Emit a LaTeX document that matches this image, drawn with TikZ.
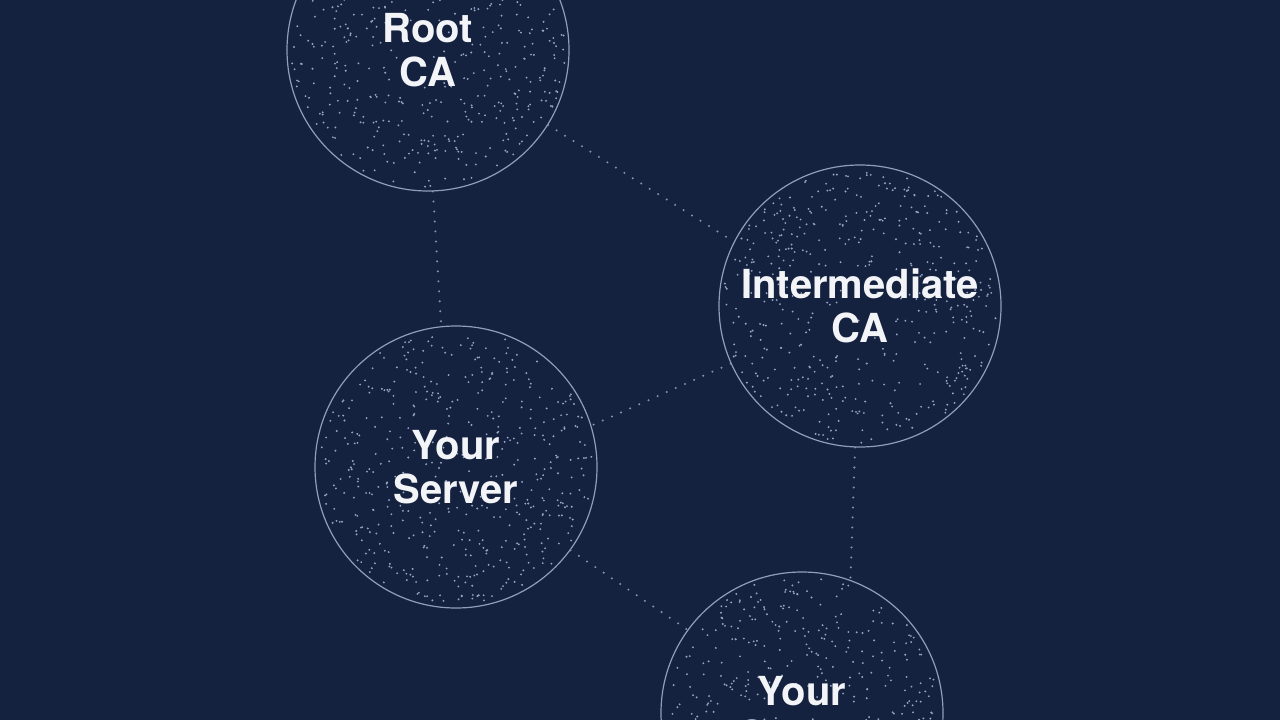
\documentclass[tikz,border=0pt]{standalone}
\usepackage{fontspec}
\setmainfont{TeX Gyre Heros}
\usetikzlibrary{positioning}
\definecolor{navy}{HTML}{15223F}
\definecolor{rim}{HTML}{8E9EBE}
\definecolor{speck}{HTML}{8192B4}
\definecolor{grain}{HTML}{93A4C4}
\definecolor{label}{HTML}{F2F4F8}

\begin{document}
\begin{tikzpicture}[x=0.75pt,y=0.75pt,yscale=-1,xscale=1,
  ca/.style={circle,draw=rim,line width=0.9pt,minimum size=211.5pt,inner sep=0pt,
    align=center,text=label,font=\fontsize{30}{33.5}\selectfont\bfseries},
  link/.style={draw=speck,line width=1.7pt,line cap=round,dash pattern=on 0pt off 7.5pt}]

%background
\fill[navy] (0,0) rectangle (1280,720);
\clip (0,0) rectangle (1280,720);

%speckle inside the circles
\pgfmathsetseed{42}
\foreach \cx/\cy in {428/50,860/306,456/467,802/713}{
  \foreach \k in {1,...,470}{
    \pgfmathsetmacro\ang{360*rnd}
    \pgfmathsetmacro\rad{137*pow(rnd,0.42)}
    \fill[grain] (\cx,\cy) ++(\ang:\rad) circle (1.05);
  }
}

%certificate chain
\node[ca] (root) at (428,50) {Root\\CA};
\node[ca] (inter) at (860,306) {Intermediate\\CA};
\node[ca] (srv) at (456,467) {Your\\Server};
\node[ca] (srvb) at (802,713) {Your\\Server};

%dotted links
\draw[link] (root.-88) -- (srv.96);
\draw[link] (root.-32) -- (inter.153);
\draw[link] (inter.204) -- (srv.17);
\draw[link] (inter.-92) -- (srvb.70);
\draw[link] (srv.-36) -- (srvb.144);

\end{tikzpicture}
\end{document}
